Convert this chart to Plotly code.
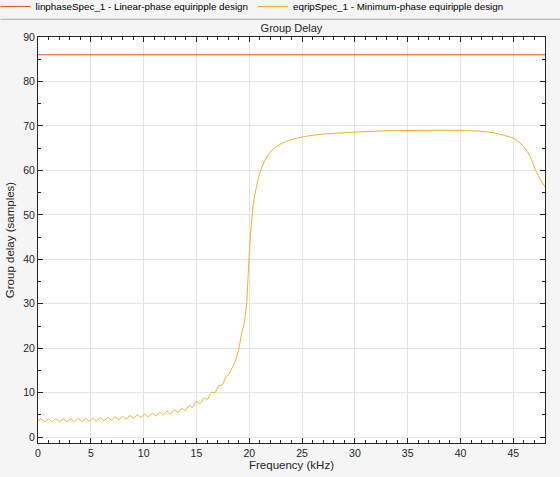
import plotly.graph_objects as go

# linear-phase design: constant group delay
lin_freq = [0, 48]
lin_delay = [86, 86]

# minimum-phase design (kHz, samples)
min_freq = [
    0.00, 0.30, 0.65, 1.00, 1.35, 1.70, 2.05, 2.40, 2.75, 3.10,
    3.45, 3.80, 4.15, 4.50, 4.85, 5.20, 5.55, 5.90, 6.25, 6.60,
    6.95, 7.30, 7.65, 8.00, 8.35, 8.70, 9.05, 9.40, 9.75, 10.10,
    10.45, 10.80, 11.15, 11.50, 11.85, 12.20, 12.55, 12.90, 13.25, 13.60,
    13.95, 14.30, 14.65, 15.00, 15.35, 15.70, 16.05, 16.40, 16.75, 17.10,
    17.45, 17.80, 18.10, 18.40, 18.70, 19.00, 19.30, 19.55, 19.75, 19.95,
    20.15, 20.40, 20.75, 21.20, 21.70, 22.30, 23.30, 24.80, 26.70, 29.90,
    33.00, 36.20, 40.00, 41.50, 42.70, 43.60, 44.30, 45.20, 46.00, 46.60,
    47.10, 47.60, 48.00,
]
min_delay = [
    3.70, 4.15, 3.45, 4.15, 3.45, 4.15, 3.45, 4.16, 3.46, 4.17,
    3.48, 4.19, 3.50, 4.25, 3.58, 4.32, 3.65, 4.39, 3.74, 4.49,
    3.84, 4.60, 3.95, 4.70, 4.09, 4.87, 4.26, 5.05, 4.44, 5.22,
    4.61, 5.40, 4.79, 5.60, 5.00, 5.85, 5.25, 6.14, 5.57, 6.55,
    5.98, 7.15, 6.75, 8.05, 7.55, 8.75, 8.55, 10.1, 10.0, 11.6,
    11.8, 13.6, 14.2, 15.7, 17.2, 19.8, 23.5, 26.0, 30.0, 39.0,
    46.5, 52.6, 57.1, 60.8, 63.1, 64.9, 66.3, 67.4, 68.1, 68.6,
    68.9, 69.0, 69.0, 68.85, 68.6, 68.2, 67.8, 67.0, 65.3, 63.1,
    60.1, 57.8, 56.3,
]

x_ticks = [0, 5, 10, 15, 20, 25, 30, 35, 40, 45]
y_ticks = [0, 10, 20, 30, 40, 50, 60, 70, 80, 90]

axis_col = '#262626'
grid_col = '#e3e3e3'
font = 'Liberation Sans, Arial, sans-serif'

fig = go.Figure()
fig.add_trace(go.Scatter(
    x=lin_freq, y=lin_delay, mode='lines',
    name='linphaseSpec_1 - Linear-phase equiripple design',
    line=dict(color='#D95319', width=1),
))
fig.add_trace(go.Scatter(
    x=min_freq, y=min_delay, mode='lines',
    name='eqripSpec_1 - Minimum-phase equiripple design',
    line=dict(color='#EDB120', width=1, shape='spline', smoothing=0.7),
))

axis_common = dict(
    showline=True, linecolor=axis_col, linewidth=1, mirror='ticks',
    ticks='inside', ticklen=5, tickcolor=axis_col,
    showgrid=True, gridcolor=grid_col, gridwidth=1,
    zeroline=False, tickfont=dict(size=10.5, color=axis_col),
)

fig.update_layout(
    width=560,
    height=477,
    font_family=font,
    font_color=axis_col,
    paper_bgcolor='#f5f5f5',
    plot_bgcolor='white',
    margin=dict(l=37.5, r=15, t=36.7, b=34, autoexpand=False),
    showlegend=True,
    title=dict(
        text='Group Delay', x=0.5, xref='paper',
        y=1 - 28 / 477, yref='container', yanchor='middle',
        font=dict(size=11, color=axis_col),
    ),
    # legend sits above the axes, in one row across the top strip
    legend=dict(
        orientation='h', xref='paper', x=-0.0837, xanchor='left',
        yref='paper', y=1.111, yanchor='top', bgcolor='rgba(0,0,0,0)',
        font=dict(size=9.8, color='black'), itemwidth=30,
    ),
    xaxis=dict(
        axis_common, range=[0, 48], tickvals=x_ticks,
        minor=dict(ticks='inside', dtick=1, ticklen=3, tickcolor=axis_col, showgrid=False),
        title=dict(text='Frequency (kHz)', font=dict(size=11.5), standoff=2),
    ),
    yaxis=dict(
        axis_common, range=[-1.3, 90], tickvals=y_ticks,
        minor=dict(ticks='inside', dtick=5, ticklen=3, tickcolor=axis_col, showgrid=False),
        title=dict(text='Group delay (samples)', font=dict(size=11.5), standoff=6),
    ),
    shapes=[dict(
        type='line', xref='paper', yref='paper',
        x0=-37.5 / 507.5, x1=522.5 / 507.5, y0=424 / 406.3, y1=424 / 406.3,
        line=dict(color='#a8a8a8', width=1),
    )],
)

# the page body has a default 8px margin; drop it so the figure fills the window
fig.write_html(
    'out.html',
    config={'displayModeBar': False},
    post_script="document.body.style.margin='0';",
)
